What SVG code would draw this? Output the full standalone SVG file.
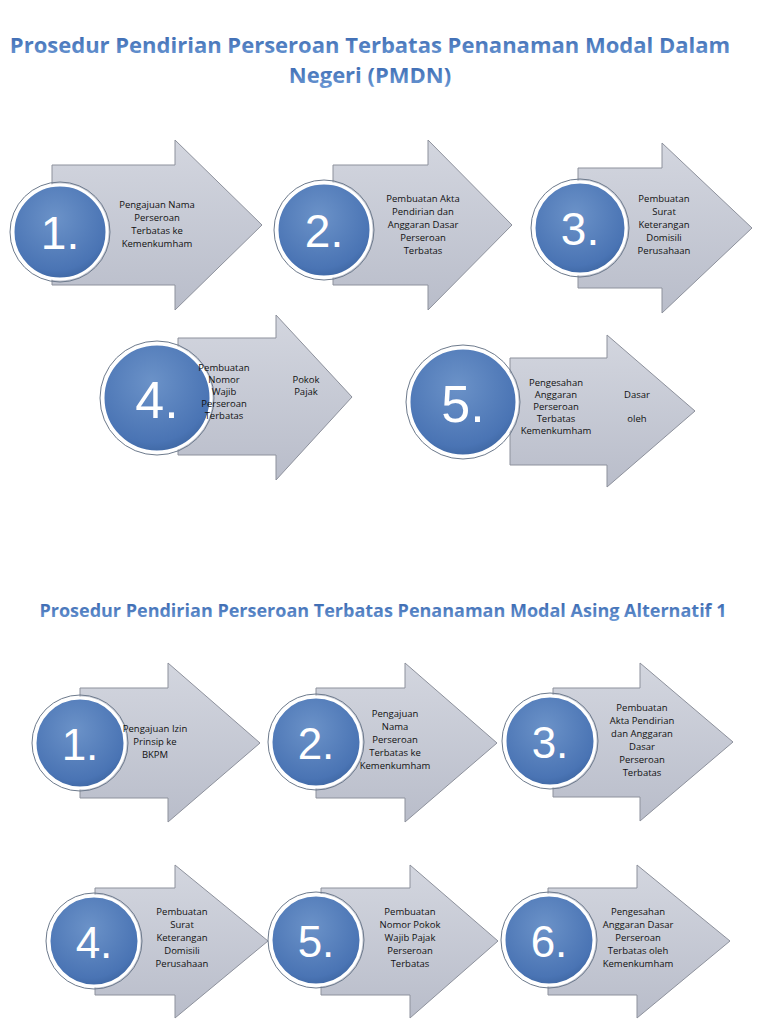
<svg xmlns="http://www.w3.org/2000/svg" width="768" height="1024" viewBox="0 0 768 1024">
<defs>
<linearGradient id="ag" x1="0" y1="0" x2="0" y2="1"><stop offset="0" stop-color="#d3d6df"/><stop offset="1" stop-color="#b9bdca"/></linearGradient>
<radialGradient id="cg" cx="0.45" cy="0.35" r="0.7"><stop offset="0" stop-color="#6b92c8"/><stop offset="0.8" stop-color="#4a74b4"/><stop offset="1" stop-color="#3b639e"/></radialGradient>
<linearGradient id="tg" x1="0" y1="0" x2="0" y2="1"><stop offset="0" stop-color="#2f5da8"/><stop offset="1" stop-color="#6e9bd6"/></linearGradient>
</defs>
<style>
.ar{fill:url(#ag);stroke:#8d919c;stroke-width:1}
.ci{fill:url(#cg);stroke:#ffffff;stroke-width:3}
.cr{fill:none;stroke:#6d7a8c;stroke-width:1}
.n{font-family:"Liberation Sans",Arial,sans-serif;fill:#fff;text-anchor:middle}
.t{font-family:"Open Sans","Liberation Sans",sans-serif;font-size:9.5px;fill:#111;text-anchor:middle}
.h{font-family:"Open Sans","Liberation Sans",sans-serif;font-weight:bold;fill:url(#tg);text-anchor:middle}
</style>
<text class="h" x="370" y="53" font-size="22">Prosedur Pendirian Perseroan Terbatas Penanaman Modal Dalam</text>
<text class="h" x="370" y="83" font-size="22">Negeri (PMDN)</text>
<text class="h" x="383" y="617" font-size="18">Prosedur Pendirian Perseroan Terbatas Penanaman Modal Asing Alternatif 1</text>
<g id="connectors"/>
<g id="a1"><path class="ar" d="M52 165H175V140L262 225L175 310V285H52Z"/><circle class="cr" cx="60" cy="232" r="50"/><circle class="ci" cx="60" cy="232" r="47"/><text class="n" x="60" y="249" font-size="46">1.</text>
<text class="t" x="157" y="208">Pengajuan Nama</text><text class="t" x="157" y="221">Perseroan</text><text class="t" x="157" y="234">Terbatas ke</text><text class="t" x="157" y="247">Kemenkumham</text></g>
<g id="a2"><path class="ar" d="M333 165H428V140L512 225L428 310V285H333Z"/><circle class="cr" cx="324" cy="230" r="50"/><circle class="ci" cx="324" cy="230" r="47"/><text class="n" x="324" y="247" font-size="46">2.</text>
<text class="t" x="423" y="202">Pembuatan Akta</text><text class="t" x="423" y="215">Pendirian dan</text><text class="t" x="423" y="228">Anggaran Dasar</text><text class="t" x="423" y="241">Perseroan</text><text class="t" x="423" y="254">Terbatas</text></g>
<g id="a3"><path class="ar" d="M578 168H662V143L752 228L662 313V288H578Z"/><circle class="cr" cx="580" cy="228" r="49"/><circle class="ci" cx="580" cy="228" r="46"/><text class="n" x="580" y="245" font-size="46">3.</text>
<text class="t" x="664" y="202">Pembuatan</text><text class="t" x="664" y="215">Surat</text><text class="t" x="664" y="228">Keterangan</text><text class="t" x="664" y="241">Domisili</text><text class="t" x="664" y="254">Perusahaan</text></g>
<g id="a4"><path class="ar" d="M178 338H276V315L352 397L276 480V455H178Z"/><circle class="cr" cx="157" cy="398" r="57"/><circle class="ci" cx="157" cy="398" r="54"/><text class="n" x="157" y="418" font-size="52">4.</text>
<text class="t" x="224" y="371" text-anchor="start">Pembuatan</text><text class="t" x="224" y="383" text-anchor="start">Nomor</text><text class="t" x="306" y="383" text-anchor="end">Pokok</text><text class="t" x="224" y="395" text-anchor="start">Wajib</text><text class="t" x="306" y="395" text-anchor="end">Pajak</text><text class="t" x="224" y="407" text-anchor="start">Perseroan</text><text class="t" x="224" y="419" text-anchor="start">Terbatas</text></g>
<g id="a5"><path class="ar" d="M510 358H607V335L695 411L607 487V465H510Z"/><circle class="cr" cx="463" cy="402" r="57"/><circle class="ci" cx="463" cy="402" r="54"/><text class="n" x="463" y="422" font-size="52">5.</text>
<text class="t" x="556" y="386" text-anchor="start">Pengesahan</text><text class="t" x="556" y="398" text-anchor="start">Anggaran</text><text class="t" x="637" y="398" text-anchor="end">Dasar</text><text class="t" x="556" y="410" text-anchor="start">Perseroan</text><text class="t" x="556" y="422" text-anchor="start">Terbatas</text><text class="t" x="637" y="422" text-anchor="end">oleh</text><text class="t" x="556" y="434" text-anchor="start">Kemenkumham</text></g>
<g id="b1"><path class="ar" d="M80 688H168V663L260 743L168 822V798H80Z"/><circle class="cr" cx="80" cy="743" r="48"/><circle class="ci" cx="80" cy="743" r="45"/><text class="n" x="80" y="760" font-size="44">1.</text>
<text class="t" x="155" y="732">Pengajuan Izin</text><text class="t" x="155" y="745">Prinsip ke</text><text class="t" x="155" y="758">BKPM</text></g>
<g id="b2"><path class="ar" d="M316 688H405V663L497 743L405 822V798H316Z"/><circle class="cr" cx="316" cy="742" r="48"/><circle class="ci" cx="316" cy="742" r="45"/><text class="n" x="316" y="759" font-size="44">2.</text>
<text class="t" x="395" y="717">Pengajuan</text><text class="t" x="395" y="730">Nama</text><text class="t" x="395" y="743">Perseroan</text><text class="t" x="395" y="756">Terbatas ke</text><text class="t" x="395" y="769">Kemenkumham</text></g>
<g id="b3"><path class="ar" d="M553 688H640V663L733 742L640 821V797H553Z"/><circle class="cr" cx="550" cy="741" r="48"/><circle class="ci" cx="550" cy="741" r="45"/><text class="n" x="550" y="758" font-size="44">3.</text>
<text class="t" x="642" y="711">Pembuatan</text><text class="t" x="642" y="724">Akta Pendirian</text><text class="t" x="642" y="737">dan Anggaran</text><text class="t" x="642" y="750">Dasar</text><text class="t" x="642" y="763">Perseroan</text><text class="t" x="642" y="776">Terbatas</text></g>
<g id="b4"><path class="ar" d="M95 888H175V865L268 941L175 1018V995H95Z"/><circle class="cr" cx="94" cy="941" r="48"/><circle class="ci" cx="94" cy="941" r="45"/><text class="n" x="94" y="958" font-size="44">4.</text>
<text class="t" x="182" y="915" text-anchor="end">Pembuatan</text><text class="t" x="182" y="928" text-anchor="end">Surat</text><text class="t" x="182" y="941" text-anchor="end">Keterangan</text><text class="t" x="182" y="954" text-anchor="end">Domisili</text><text class="t" x="182" y="967" text-anchor="end">Perusahaan</text></g>
<g id="b5"><path class="ar" d="M321 888H410V865L498 941L410 1018V995H321Z"/><circle class="cr" cx="316" cy="940" r="48"/><circle class="ci" cx="316" cy="940" r="45"/><text class="n" x="316" y="957" font-size="44">5.</text>
<text class="t" x="410" y="915">Pembuatan</text><text class="t" x="410" y="928">Nomor Pokok</text><text class="t" x="410" y="941">Wajib Pajak</text><text class="t" x="410" y="954">Perseroan</text><text class="t" x="410" y="967">Terbatas</text></g>
<g id="b6"><path class="ar" d="M548 888H637V865L730 941L637 1018V995H548Z"/><circle class="cr" cx="549" cy="940" r="48"/><circle class="ci" cx="549" cy="940" r="45"/><text class="n" x="549" y="957" font-size="44">6.</text>
<text class="t" x="638" y="915">Pengesahan</text><text class="t" x="638" y="928">Anggaran Dasar</text><text class="t" x="638" y="941">Perseroan</text><text class="t" x="638" y="954">Terbatas oleh</text><text class="t" x="638" y="967">Kemenkumham</text></g>
</svg>
